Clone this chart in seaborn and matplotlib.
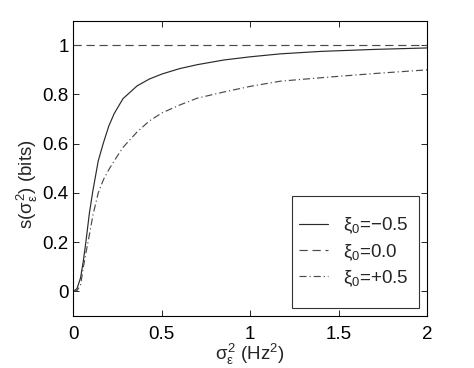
import matplotlib
matplotlib.use("Agg")
import matplotlib.pyplot as plt
from matplotlib.patches import Rectangle
import seaborn as sns
import pandas as pd

# values
sigma2 = [0.0, 0.02, 0.04, 0.055, 0.07, 0.09, 0.11, 0.14, 0.17, 0.2, 0.23, 0.28,
          0.36, 0.43, 0.5, 0.6, 0.7, 0.85, 1.0, 1.17, 1.4, 1.7, 2.0]
s_neg = [0.0, 0.012, 0.055, 0.12, 0.2, 0.318, 0.41, 0.53, 0.605, 0.672, 0.722, 0.783,
         0.835, 0.863, 0.883, 0.905, 0.921, 0.94, 0.953, 0.965, 0.975, 0.983, 0.989]
s_zero = [1.0] * len(sigma2)
s_pos = [0.0, 0.004, 0.025, 0.095, 0.155, 0.23, 0.31, 0.40, 0.455, 0.495, 0.53, 0.585,
         0.648, 0.693, 0.725, 0.757, 0.785, 0.81, 0.833, 0.854, 0.868, 0.885, 0.90]
labels = ["$\\xi_0$=\u22120.5", "$\\xi_0$=0.0", "$\\xi_0$=+0.5"]

sns.set_style("ticks")
plt.rcParams['font.family'] = ['Liberation Sans', 'DejaVu Sans']
plt.rcParams['mathtext.fontset'] = 'custom'
plt.rcParams['mathtext.rm'] = 'Liberation Sans'
plt.rcParams['mathtext.it'] = 'Liberation Sans'
fs = 13.5

fig = plt.figure(figsize=(4.74, 3.68), dpi=100)
ax = fig.add_axes([0.155, 0.141, 0.746, 0.803])

df = pd.DataFrame({"x": sigma2, "neg": s_neg, "zero": s_zero, "pos": s_pos})
sns.lineplot(data=df, x="x", y="neg", ax=ax, color="#2a2a2a", lw=0.85, label=labels[0])
sns.lineplot(data=df, x="x", y="zero", ax=ax, color="#4a4a4a", lw=0.85,
             linestyle=(0, (7, 4)), label=labels[1])
sns.lineplot(data=df, x="x", y="pos", ax=ax, color="#4a4a4a", lw=0.85,
             linestyle=(0, (6, 2.5, 1, 2.5)), label=labels[2])

ax.set_xlim(0, 2)
ax.set_ylim(-0.1, 1.1)
ax.set_xticks([0, 0.5, 1, 1.5, 2])
ax.set_xticklabels(["0", "0.5", "1", "1.5", "2"])
ax.set_yticks([0, 0.2, 0.4, 0.6, 0.8, 1])
ax.set_yticklabels(["0", "0.2", "0.4", "0.6", "0.8", "1"])
ax.tick_params(direction="in", top=True, right=True, length=4, width=0.6,
               labelsize=fs, colors="black")
ax.tick_params(axis="x", pad=7)
ax.tick_params(axis="y", pad=3.5)
for sp in ax.spines.values():
    sp.set_linewidth(0.8)
    sp.set_color("black")

ax.set_xlabel(r"$\sigma_\varepsilon^2$ (Hz$^2$)", fontsize=fs, labelpad=-1)
ax.set_ylabel(r"s($\sigma_\varepsilon^2$) (bits)", fontsize=fs)
ax.yaxis.set_label_coords(-0.094, 0.446)

# legend frame drawn separately (more padding above/below than at the sides)
ax.add_patch(Rectangle((0.619, 0.028), 0.357, 0.377, transform=ax.transAxes,
                       facecolor="white", edgecolor="#333333", lw=0.8, zorder=4))
leg = ax.legend(loc="center left", bbox_to_anchor=(0.6376, 0.216), borderaxespad=0,
                frameon=False, fontsize=fs, borderpad=0,
                handlelength=1.53, handletextpad=0.83, labelspacing=0.3)
leg.set_zorder(5)

fig.savefig("out.png", dpi=100)
